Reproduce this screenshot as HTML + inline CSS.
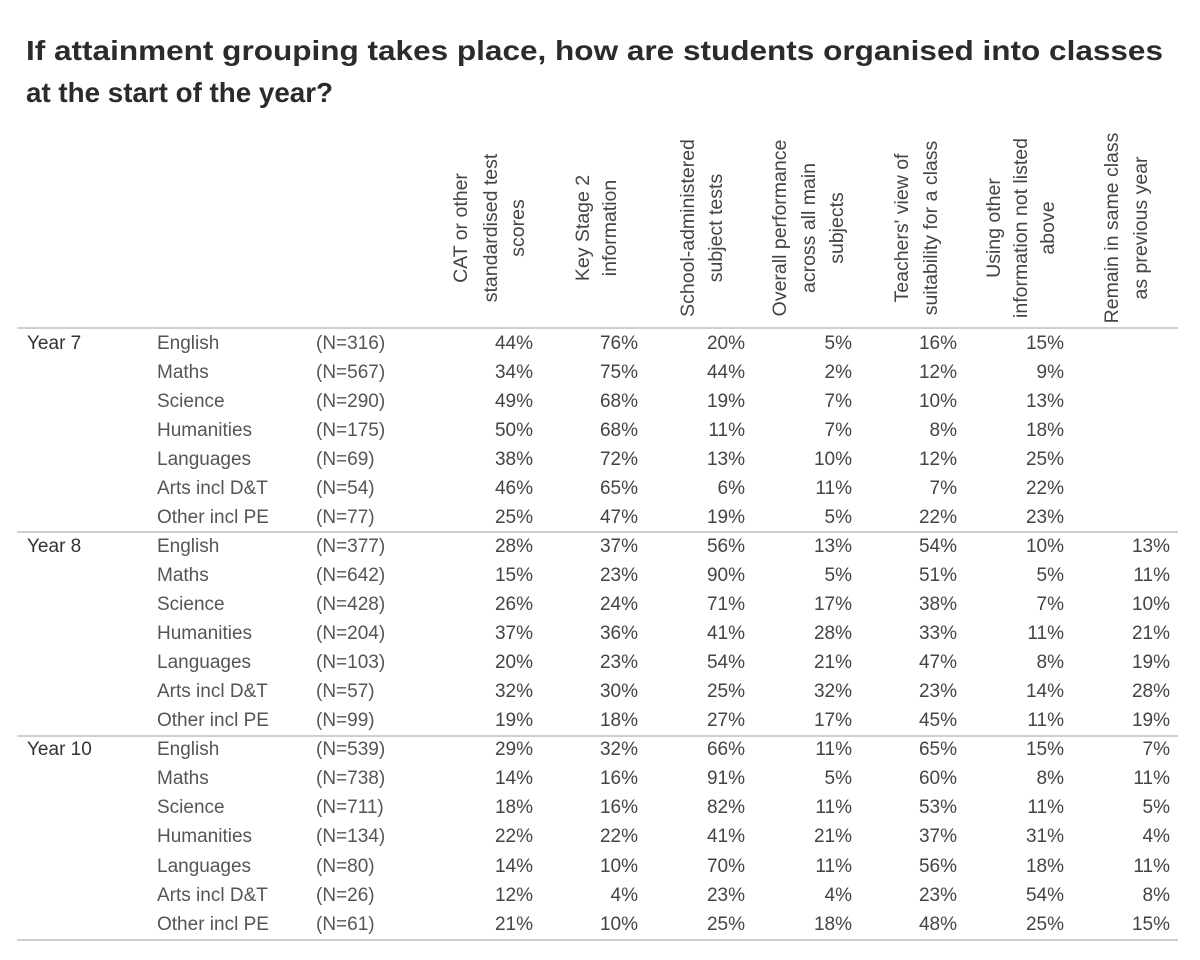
<!DOCTYPE html>
<html><head><meta charset="utf-8"><style>
html,body{margin:0;padding:0;background:#fff;}
svg{display:block;font-family:"Liberation Sans",sans-serif;}
.t{font-weight:bold;font-size:28px;fill:#2b2b2b;}
.h{font-size:19.5px;fill:#444;text-anchor:middle;}
.y{font-size:19px;fill:#333;}
.s{font-size:19px;fill:#555;}
.v{font-size:19px;fill:#444;text-anchor:end;}
</style></head><body>
<svg width="1200" height="960" viewBox="0 0 1200 960">
<text class="t" x="26" y="60" textLength="1137" lengthAdjust="spacingAndGlyphs">If attainment grouping takes place, how are students organised into classes</text>
<text class="t" x="26" y="102" textLength="307" lengthAdjust="spacingAndGlyphs">at the start of the year?</text>

<g class="h">
<text transform="translate(467,228) rotate(-90)">CAT or other</text>
<text transform="translate(497,228) rotate(-90)">standardised test</text>
<text transform="translate(524,228) rotate(-90)">scores</text>
<text transform="translate(589,228) rotate(-90)">Key Stage 2</text>
<text transform="translate(616,228) rotate(-90)">information</text>
<text transform="translate(694,228) rotate(-90)">School-administered</text>
<text transform="translate(722,228) rotate(-90)">subject tests</text>
<text transform="translate(786,228) rotate(-90)">Overall performance</text>
<text transform="translate(815,228) rotate(-90)">across all main</text>
<text transform="translate(843,228) rotate(-90)">subjects</text>
<text transform="translate(908,228) rotate(-90)">Teachers' view of</text>
<text transform="translate(937,228) rotate(-90)">suitability for a class</text>
<text transform="translate(1000,228) rotate(-90)">Using other</text>
<text transform="translate(1027,228) rotate(-90)">information not listed</text>
<text transform="translate(1054,228) rotate(-90)">above</text>
<text transform="translate(1118,228) rotate(-90)">Remain in same class</text>
<text transform="translate(1147,228) rotate(-90)">as previous year</text>
</g>

<g stroke="#cfcfcf" stroke-width="2">
<line x1="17" y1="328" x2="1178" y2="328"/>
<line x1="17" y1="532" x2="1178" y2="532"/>
<line x1="17" y1="736" x2="1178" y2="736"/>
<line x1="17" y1="940" x2="1178" y2="940"/>
</g>

<g transform="translate(0,349)"><text class="y" x="27">Year 7</text><text class="s" x="157">English</text><text class="s" x="316">(N=316)</text><text class="v" x="533">44%</text><text class="v" x="638">76%</text><text class="v" x="745">20%</text><text class="v" x="852">5%</text><text class="v" x="957">16%</text><text class="v" x="1064">15%</text></g>
<g transform="translate(0,378)"><text class="s" x="157">Maths</text><text class="s" x="316">(N=567)</text><text class="v" x="533">34%</text><text class="v" x="638">75%</text><text class="v" x="745">44%</text><text class="v" x="852">2%</text><text class="v" x="957">12%</text><text class="v" x="1064">9%</text></g>
<g transform="translate(0,407)"><text class="s" x="157">Science</text><text class="s" x="316">(N=290)</text><text class="v" x="533">49%</text><text class="v" x="638">68%</text><text class="v" x="745">19%</text><text class="v" x="852">7%</text><text class="v" x="957">10%</text><text class="v" x="1064">13%</text></g>
<g transform="translate(0,436)"><text class="s" x="157">Humanities</text><text class="s" x="316">(N=175)</text><text class="v" x="533">50%</text><text class="v" x="638">68%</text><text class="v" x="745">11%</text><text class="v" x="852">7%</text><text class="v" x="957">8%</text><text class="v" x="1064">18%</text></g>
<g transform="translate(0,465)"><text class="s" x="157">Languages</text><text class="s" x="316">(N=69)</text><text class="v" x="533">38%</text><text class="v" x="638">72%</text><text class="v" x="745">13%</text><text class="v" x="852">10%</text><text class="v" x="957">12%</text><text class="v" x="1064">25%</text></g>
<g transform="translate(0,494)"><text class="s" x="157">Arts incl D&amp;T</text><text class="s" x="316">(N=54)</text><text class="v" x="533">46%</text><text class="v" x="638">65%</text><text class="v" x="745">6%</text><text class="v" x="852">11%</text><text class="v" x="957">7%</text><text class="v" x="1064">22%</text></g>
<g transform="translate(0,523)"><text class="s" x="157">Other incl PE</text><text class="s" x="316">(N=77)</text><text class="v" x="533">25%</text><text class="v" x="638">47%</text><text class="v" x="745">19%</text><text class="v" x="852">5%</text><text class="v" x="957">22%</text><text class="v" x="1064">23%</text></g>

<g transform="translate(0,552)"><text class="y" x="27">Year 8</text><text class="s" x="157">English</text><text class="s" x="316">(N=377)</text><text class="v" x="533">28%</text><text class="v" x="638">37%</text><text class="v" x="745">56%</text><text class="v" x="852">13%</text><text class="v" x="957">54%</text><text class="v" x="1064">10%</text><text class="v" x="1170">13%</text></g>
<g transform="translate(0,581)"><text class="s" x="157">Maths</text><text class="s" x="316">(N=642)</text><text class="v" x="533">15%</text><text class="v" x="638">23%</text><text class="v" x="745">90%</text><text class="v" x="852">5%</text><text class="v" x="957">51%</text><text class="v" x="1064">5%</text><text class="v" x="1170">11%</text></g>
<g transform="translate(0,610)"><text class="s" x="157">Science</text><text class="s" x="316">(N=428)</text><text class="v" x="533">26%</text><text class="v" x="638">24%</text><text class="v" x="745">71%</text><text class="v" x="852">17%</text><text class="v" x="957">38%</text><text class="v" x="1064">7%</text><text class="v" x="1170">10%</text></g>
<g transform="translate(0,639)"><text class="s" x="157">Humanities</text><text class="s" x="316">(N=204)</text><text class="v" x="533">37%</text><text class="v" x="638">36%</text><text class="v" x="745">41%</text><text class="v" x="852">28%</text><text class="v" x="957">33%</text><text class="v" x="1064">11%</text><text class="v" x="1170">21%</text></g>
<g transform="translate(0,668)"><text class="s" x="157">Languages</text><text class="s" x="316">(N=103)</text><text class="v" x="533">20%</text><text class="v" x="638">23%</text><text class="v" x="745">54%</text><text class="v" x="852">21%</text><text class="v" x="957">47%</text><text class="v" x="1064">8%</text><text class="v" x="1170">19%</text></g>
<g transform="translate(0,697)"><text class="s" x="157">Arts incl D&amp;T</text><text class="s" x="316">(N=57)</text><text class="v" x="533">32%</text><text class="v" x="638">30%</text><text class="v" x="745">25%</text><text class="v" x="852">32%</text><text class="v" x="957">23%</text><text class="v" x="1064">14%</text><text class="v" x="1170">28%</text></g>
<g transform="translate(0,726)"><text class="s" x="157">Other incl PE</text><text class="s" x="316">(N=99)</text><text class="v" x="533">19%</text><text class="v" x="638">18%</text><text class="v" x="745">27%</text><text class="v" x="852">17%</text><text class="v" x="957">45%</text><text class="v" x="1064">11%</text><text class="v" x="1170">19%</text></g>

<g transform="translate(0,755)"><text class="y" x="27">Year 10</text><text class="s" x="157">English</text><text class="s" x="316">(N=539)</text><text class="v" x="533">29%</text><text class="v" x="638">32%</text><text class="v" x="745">66%</text><text class="v" x="852">11%</text><text class="v" x="957">65%</text><text class="v" x="1064">15%</text><text class="v" x="1170">7%</text></g>
<g transform="translate(0,784)"><text class="s" x="157">Maths</text><text class="s" x="316">(N=738)</text><text class="v" x="533">14%</text><text class="v" x="638">16%</text><text class="v" x="745">91%</text><text class="v" x="852">5%</text><text class="v" x="957">60%</text><text class="v" x="1064">8%</text><text class="v" x="1170">11%</text></g>
<g transform="translate(0,813)"><text class="s" x="157">Science</text><text class="s" x="316">(N=711)</text><text class="v" x="533">18%</text><text class="v" x="638">16%</text><text class="v" x="745">82%</text><text class="v" x="852">11%</text><text class="v" x="957">53%</text><text class="v" x="1064">11%</text><text class="v" x="1170">5%</text></g>
<g transform="translate(0,842)"><text class="s" x="157">Humanities</text><text class="s" x="316">(N=134)</text><text class="v" x="533">22%</text><text class="v" x="638">22%</text><text class="v" x="745">41%</text><text class="v" x="852">21%</text><text class="v" x="957">37%</text><text class="v" x="1064">31%</text><text class="v" x="1170">4%</text></g>
<g transform="translate(0,872)"><text class="s" x="157">Languages</text><text class="s" x="316">(N=80)</text><text class="v" x="533">14%</text><text class="v" x="638">10%</text><text class="v" x="745">70%</text><text class="v" x="852">11%</text><text class="v" x="957">56%</text><text class="v" x="1064">18%</text><text class="v" x="1170">11%</text></g>
<g transform="translate(0,901)"><text class="s" x="157">Arts incl D&amp;T</text><text class="s" x="316">(N=26)</text><text class="v" x="533">12%</text><text class="v" x="638">4%</text><text class="v" x="745">23%</text><text class="v" x="852">4%</text><text class="v" x="957">23%</text><text class="v" x="1064">54%</text><text class="v" x="1170">8%</text></g>
<g transform="translate(0,930)"><text class="s" x="157">Other incl PE</text><text class="s" x="316">(N=61)</text><text class="v" x="533">21%</text><text class="v" x="638">10%</text><text class="v" x="745">25%</text><text class="v" x="852">18%</text><text class="v" x="957">48%</text><text class="v" x="1064">25%</text><text class="v" x="1170">15%</text></g>
</svg>
</body></html>
